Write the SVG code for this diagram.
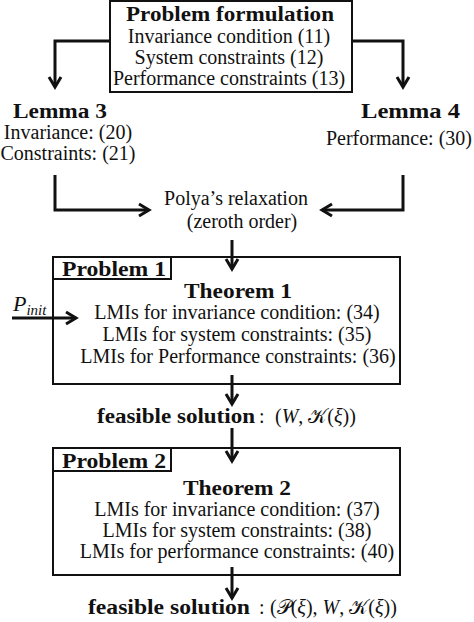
<svg xmlns="http://www.w3.org/2000/svg" width="474" height="622" viewBox="0 0 474 622" font-family="Liberation Serif, DejaVu Serif, serif" font-size="20">
<style>
text{fill:#111}
.b{font-weight:bold}
.c{text-anchor:middle}
.i{font-style:italic}
.box{fill:#fff;stroke:#111;stroke-width:2}
.con{fill:none;stroke:#111;stroke-width:3}
</style>
<defs>
<marker id="ah" markerUnits="userSpaceOnUse" markerWidth="20" markerHeight="20" refX="12" refY="8" orient="auto">
<path d="M2,2 L12,8 L2,14" fill="none" stroke="#111" stroke-width="3"/>
</marker>
</defs>
<rect width="474" height="622" fill="#fff"/>
<g id="problem-formulation">
<rect class="box" x="110" y="1" width="242" height="91"/>
<text class="b c" x="230" y="21" textLength="208" lengthAdjust="spacingAndGlyphs">Problem formulation</text>
<text class="c" x="229" y="43">Invariance condition (11)</text>
<text class="c" x="229" y="64">System constraints (12)</text>
<text class="c" x="229" y="85">Performance constraints (13)</text>
</g>
<g id="lemma3">
<text class="b c" x="60" y="118" textLength="94" lengthAdjust="spacingAndGlyphs">Lemma 3</text>
<text class="c" x="68" y="139">Invariance: (20)</text>
<text class="c" x="68" y="160">Constraints: (21)</text>
</g>
<g id="lemma4">
<text class="b" x="361" y="118" textLength="99" lengthAdjust="spacingAndGlyphs">Lemma  4</text>
<text x="472" y="145" text-anchor="end">Performance: (30)</text>
</g>
<g id="polya">
<text class="c" x="236" y="205">Polya’s relaxation</text>
<text class="c" x="242" y="228">(zeroth order)</text>
</g>
<g id="problem1">
<rect class="box" x="53" y="257" width="347" height="127"/>
<rect class="box" x="53" y="257" width="118" height="22"/>
<text class="b" x="62" y="276" textLength="104" lengthAdjust="spacingAndGlyphs">Problem 1</text>
<text class="b" x="184" y="298" textLength="108" lengthAdjust="spacingAndGlyphs">Theorem 1</text>
<text class="c" x="237" y="319">LMIs for invariance condition: (34)</text>
<text class="c" x="237" y="341">LMIs for system constraints: (35)</text>
<text class="c" x="238" y="363">LMIs for Performance constraints: (36)</text>
</g>
<g id="problem2">
<rect class="box" x="53" y="448" width="347" height="127"/>
<rect class="box" x="53" y="448" width="118" height="23"/>
<text class="b" x="62" y="468" textLength="104" lengthAdjust="spacingAndGlyphs">Problem 2</text>
<text class="b" x="183" y="495" textLength="108" lengthAdjust="spacingAndGlyphs">Theorem 2</text>
<text class="c" x="237" y="516">LMIs for invariance condition: (37)</text>
<text class="c" x="237" y="537">LMIs for system constraints: (38)</text>
<text class="c" x="237" y="558">LMIs for performance constraints: (40)</text>
</g>
<g id="pinit">
<text x="13" y="311"><tspan class="i" font-size="22">P</tspan><tspan class="i" font-size="15" dy="4">init</tspan></text>
</g>
<g id="solution1">
<text class="b" x="97" y="423" textLength="158" lengthAdjust="spacingAndGlyphs">feasible solution</text>
<text x="259" y="423">:</text>
<text x="275" y="423">(<tspan class="i">W</tspan>, 𝒦(<tspan class="i">ξ</tspan>))</text>
</g>
<g id="solution2">
<text class="b" x="88" y="614" textLength="162" lengthAdjust="spacingAndGlyphs">feasible solution</text>
<text x="259" y="614">:</text>
<text x="270" y="614">(𝒫(<tspan class="i">ξ</tspan>), <tspan class="i">W</tspan>, 𝒦(<tspan class="i">ξ</tspan>))</text>
</g>
<g id="connectors">
<path class="con" d="M110,41 H55 V87" marker-end="url(#ah)"/>
<path class="con" d="M352,41 H403 V87" marker-end="url(#ah)"/>
<path class="con" d="M55,175 V210 H149" marker-end="url(#ah)"/>
<path class="con" d="M403,175 V210 H322" marker-end="url(#ah)"/>
<path class="con" d="M232,240 V269" marker-end="url(#ah)"/>
<path class="con" d="M12,318 H76" marker-end="url(#ah)"/>
<path class="con" d="M232,375 V404" marker-end="url(#ah)"/>
<path class="con" d="M232,428 V461" marker-end="url(#ah)"/>
<path class="con" d="M232,567 V598" marker-end="url(#ah)"/>
</g>
</svg>
